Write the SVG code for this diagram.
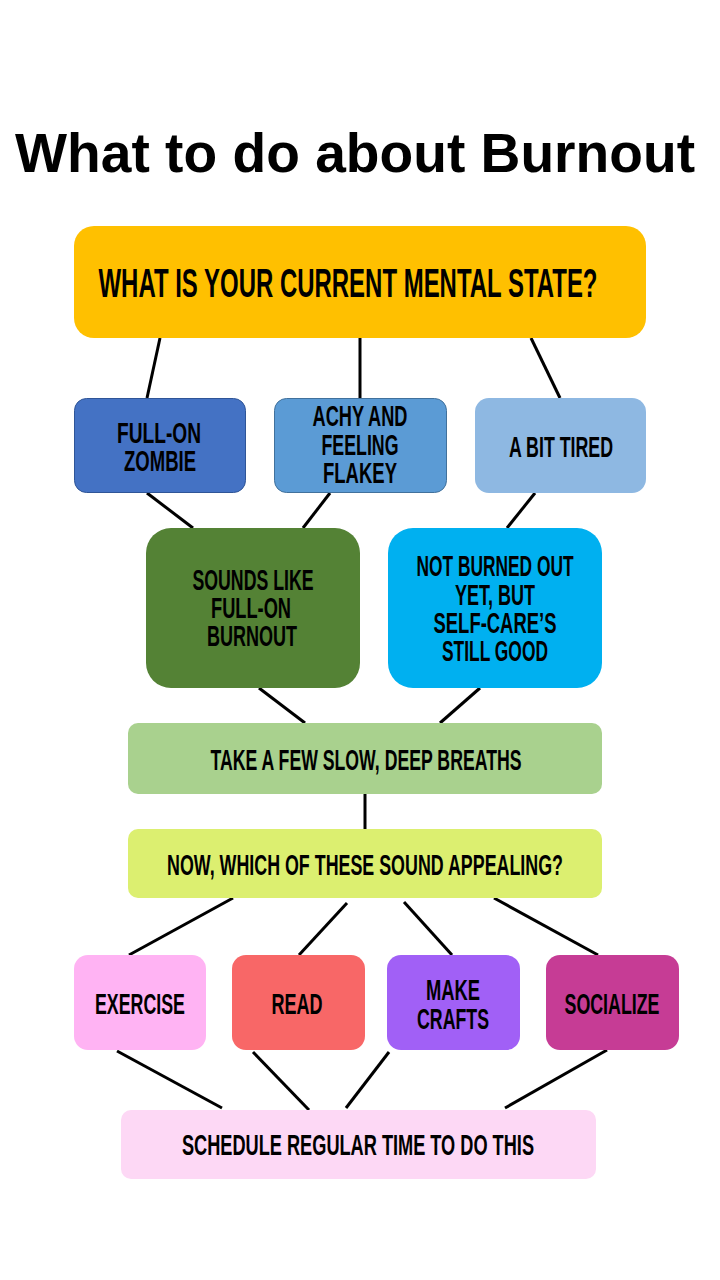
<svg xmlns="http://www.w3.org/2000/svg" width="720" height="1280" viewBox="0 0 720 1280">
<style>
.t{font-family:"Liberation Sans",Arial,sans-serif;font-weight:bold;fill:#000;text-anchor:middle}
.n{font-size:29px}
.c{stroke:#000;stroke-width:3;fill:none}
</style>
<rect width="720" height="1280" fill="#fff"/>
<text class="t" x="355" y="172" font-size="56" textLength="680" lengthAdjust="spacingAndGlyphs">What to do about Burnout</text>
<g id="connectors">
<line class="c" x1="160" y1="338" x2="147" y2="398"/>
<line class="c" x1="360" y1="338" x2="360" y2="398"/>
<line class="c" x1="531" y1="338" x2="560" y2="398"/>
<line class="c" x1="147" y1="493" x2="193" y2="528"/>
<line class="c" x1="330" y1="493" x2="303" y2="528"/>
<line class="c" x1="535" y1="493" x2="507" y2="528"/>
<line class="c" x1="259" y1="688" x2="305" y2="723"/>
<line class="c" x1="480" y1="688" x2="440" y2="723"/>
<line class="c" x1="365" y1="794" x2="365" y2="829"/>
<line class="c" x1="233" y1="898" x2="129" y2="955"/>
<line class="c" x1="347" y1="903" x2="299" y2="955"/>
<line class="c" x1="404" y1="902" x2="452" y2="955"/>
<line class="c" x1="494" y1="898" x2="598" y2="955"/>
<line class="c" x1="117" y1="1051" x2="222" y2="1108"/>
<line class="c" x1="253" y1="1052" x2="309" y2="1110"/>
<line class="c" x1="389" y1="1052" x2="346" y2="1108"/>
<line class="c" x1="607" y1="1050" x2="505" y2="1108"/>
</g>
<g id="q1">
<rect x="74" y="226" width="572" height="112" rx="20" fill="#FFC000"/>
<text class="t" x="348" y="297" font-size="40" textLength="499" lengthAdjust="spacingAndGlyphs">WHAT IS YOUR CURRENT MENTAL STATE?</text>
</g>
<g id="zombie">
<rect x="74.5" y="398.5" width="171" height="94" rx="12" fill="#4472C4" stroke="#2F5597" stroke-width="1"/>
<text class="t n" x="159" y="443" textLength="84" lengthAdjust="spacingAndGlyphs">FULL-ON</text>
<text class="t n" x="160" y="471" textLength="72" lengthAdjust="spacingAndGlyphs">ZOMBIE</text>
</g>
<g id="achy">
<rect x="274.5" y="398.5" width="172" height="94" rx="12" fill="#5B9BD5" stroke="#41719C" stroke-width="1"/>
<text class="t n" x="360" y="426" textLength="95" lengthAdjust="spacingAndGlyphs">ACHY AND</text>
<text class="t n" x="360" y="455" textLength="77" lengthAdjust="spacingAndGlyphs">FEELING</text>
<text class="t n" x="360" y="483" textLength="74" lengthAdjust="spacingAndGlyphs">FLAKEY</text>
</g>
<g id="tired">
<rect x="475" y="398" width="171" height="95" rx="14" fill="#8EB8E2"/>
<text class="t n" x="561" y="457" textLength="104" lengthAdjust="spacingAndGlyphs">A BIT TIRED</text>
</g>
<g id="burnout">
<rect x="146" y="528" width="214" height="160" rx="25" fill="#548235"/>
<text class="t n" x="253" y="590" textLength="121" lengthAdjust="spacingAndGlyphs">SOUNDS LIKE</text>
<text class="t n" x="251" y="618" textLength="80" lengthAdjust="spacingAndGlyphs">FULL-ON</text>
<text class="t n" x="252" y="646" textLength="90" lengthAdjust="spacingAndGlyphs">BURNOUT</text>
</g>
<g id="notburned">
<rect x="388" y="528" width="214" height="160" rx="25" fill="#00B0F0"/>
<text class="t n" x="495" y="576" textLength="157" lengthAdjust="spacingAndGlyphs">NOT BURNED OUT</text>
<text class="t n" x="495" y="605" textLength="80" lengthAdjust="spacingAndGlyphs">YET, BUT</text>
<text class="t n" x="495" y="633" textLength="123" lengthAdjust="spacingAndGlyphs">SELF-CARE’S</text>
<text class="t n" x="495" y="661" textLength="106" lengthAdjust="spacingAndGlyphs">STILL GOOD</text>
</g>
<g id="breathe">
<rect x="128" y="723" width="474" height="71" rx="10" fill="#A9D18E"/>
<text class="t n" x="366" y="770" textLength="311" lengthAdjust="spacingAndGlyphs">TAKE A FEW SLOW, DEEP BREATHS</text>
</g>
<g id="q2">
<rect x="128" y="829" width="474" height="69" rx="10" fill="#DCEF70"/>
<text class="t n" x="365" y="875" textLength="396" lengthAdjust="spacingAndGlyphs">NOW, WHICH OF THESE SOUND APPEALING?</text>
</g>
<g id="exercise">
<rect x="74" y="955" width="132" height="95" rx="14" fill="#FFB3F3"/>
<text class="t n" x="140" y="1014" textLength="90" lengthAdjust="spacingAndGlyphs">EXERCISE</text>
</g>
<g id="read">
<rect x="232" y="955" width="133" height="95" rx="14" fill="#F86767"/>
<text class="t n" x="297" y="1014" textLength="51" lengthAdjust="spacingAndGlyphs">READ</text>
</g>
<g id="crafts">
<rect x="387" y="955" width="133" height="95" rx="14" fill="#A160F6"/>
<text class="t n" x="453" y="1000" textLength="54" lengthAdjust="spacingAndGlyphs">MAKE</text>
<text class="t n" x="453" y="1029" textLength="72" lengthAdjust="spacingAndGlyphs">CRAFTS</text>
</g>
<g id="socialize">
<rect x="546" y="955" width="133" height="95" rx="14" fill="#C63C95"/>
<text class="t n" x="612" y="1014" textLength="95" lengthAdjust="spacingAndGlyphs">SOCIALIZE</text>
</g>
<g id="schedule">
<rect x="121" y="1110" width="475" height="69" rx="10" fill="#FDD8F5"/>
<text class="t n" x="358" y="1155" textLength="352" lengthAdjust="spacingAndGlyphs">SCHEDULE REGULAR TIME TO DO THIS</text>
</g>
</svg>
